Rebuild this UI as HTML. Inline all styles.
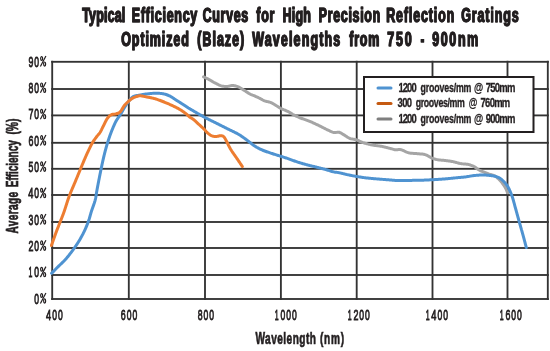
<!DOCTYPE html>
<html><head><meta charset="utf-8"><style>
html,body{margin:0;padding:0;background:#fff;width:550px;height:351px;overflow:hidden}
svg{display:block;will-change:transform}
text{font-family:"Liberation Sans",sans-serif;font-weight:bold;fill:#231f20;stroke:#231f20;stroke-width:0.5px}
</style></head><body>
<svg width="550" height="351" viewBox="0 0 550 351">
<rect width="550" height="351" fill="#fff"/>
<rect x="51.20" y="60.88" width="497.60" height="1.85" fill="#333"/><rect x="51.20" y="88.08" width="497.60" height="1.85" fill="#333"/><rect x="51.20" y="114.48" width="497.60" height="1.85" fill="#333"/><rect x="51.20" y="141.88" width="497.60" height="1.85" fill="#333"/><rect x="51.20" y="167.88" width="497.60" height="1.85" fill="#333"/><rect x="51.20" y="194.07" width="497.60" height="1.85" fill="#333"/><rect x="51.20" y="221.07" width="497.60" height="1.85" fill="#333"/><rect x="51.20" y="247.07" width="497.60" height="1.85" fill="#333"/><rect x="51.20" y="274.07" width="497.60" height="1.85" fill="#333"/><rect x="51.20" y="298.07" width="497.60" height="1.85" fill="#333"/><rect x="51.28" y="60.80" width="1.85" height="239.20" fill="#333"/><rect x="127.88" y="60.80" width="1.85" height="239.20" fill="#333"/><rect x="204.07" y="60.80" width="1.85" height="239.20" fill="#333"/><rect x="279.97" y="60.80" width="1.85" height="239.20" fill="#333"/><rect x="355.77" y="60.80" width="1.85" height="239.20" fill="#333"/><rect x="431.57" y="60.80" width="1.85" height="239.20" fill="#333"/><rect x="506.57" y="60.80" width="1.85" height="239.20" fill="#333"/><rect x="546.88" y="60.80" width="1.85" height="239.20" fill="#333"/>
<path d="M203.60,76.80 L204.21,77.11 L204.82,77.41 L205.42,77.72 L206.03,78.02 L206.63,78.32 L207.24,78.63 L207.85,78.95 L208.47,79.27 L209.10,79.60 L209.67,79.91 L210.24,80.23 L210.81,80.56 L211.39,80.90 L211.97,81.24 L212.56,81.58 L213.14,81.92 L213.73,82.26 L214.32,82.58 L214.91,82.90 L215.50,83.20 L216.13,83.52 L216.77,83.84 L217.42,84.17 L218.06,84.49 L218.70,84.80 L219.35,85.09 L219.99,85.37 L220.63,85.61 L221.27,85.82 L221.90,86.00 L222.60,86.15 L223.29,86.27 L223.98,86.35 L224.67,86.40 L225.35,86.43 L226.03,86.44 L226.72,86.43 L227.40,86.40 L228.08,86.33 L228.76,86.21 L229.43,86.06 L230.10,85.89 L230.78,85.73 L231.45,85.60 L232.13,85.51 L232.80,85.50 L233.49,85.55 L234.18,85.65 L234.88,85.78 L235.57,85.96 L236.26,86.16 L236.95,86.38 L237.63,86.63 L238.30,86.90 L238.92,87.18 L239.54,87.48 L240.15,87.82 L240.75,88.18 L241.36,88.55 L241.96,88.94 L242.57,89.33 L243.18,89.72 L243.80,90.10 L244.40,90.47 L245.01,90.86 L245.61,91.26 L246.22,91.67 L246.83,92.08 L247.45,92.48 L248.07,92.88 L248.70,93.27 L249.35,93.64 L250.00,94.00 L250.63,94.32 L251.28,94.62 L251.93,94.90 L252.60,95.18 L253.27,95.44 L253.94,95.71 L254.62,95.97 L255.29,96.24 L255.97,96.52 L256.64,96.80 L257.30,97.10 L257.91,97.39 L258.53,97.71 L259.14,98.03 L259.75,98.36 L260.36,98.69 L260.97,99.03 L261.58,99.36 L262.19,99.68 L262.79,99.99 L263.40,100.28 L264.00,100.55 L264.60,100.80 L265.32,101.06 L266.05,101.27 L266.78,101.45 L267.50,101.62 L268.22,101.78 L268.93,101.94 L269.63,102.13 L270.32,102.34 L271.00,102.60 L271.65,102.89 L272.28,103.22 L272.91,103.57 L273.53,103.94 L274.14,104.32 L274.74,104.70 L275.33,105.08 L275.92,105.45 L276.50,105.80 L277.16,106.20 L277.78,106.59 L278.39,106.98 L279.01,107.36 L279.64,107.74 L280.29,108.12 L281.00,108.50 L281.60,108.79 L282.23,109.08 L282.88,109.37 L283.56,109.66 L284.26,109.94 L284.95,110.23 L285.65,110.51 L286.34,110.80 L287.02,111.10 L287.67,111.39 L288.30,111.70 L288.95,112.04 L289.58,112.40 L290.19,112.76 L290.78,113.12 L291.38,113.49 L291.97,113.85 L292.56,114.21 L293.17,114.56 L293.80,114.90 L294.39,115.21 L294.99,115.51 L295.58,115.80 L296.18,116.10 L296.79,116.38 L297.40,116.67 L298.03,116.95 L298.67,117.23 L299.32,117.52 L300.00,117.80 L300.59,118.04 L301.20,118.27 L301.83,118.50 L302.47,118.73 L303.12,118.96 L303.78,119.19 L304.44,119.41 L305.11,119.64 L305.78,119.87 L306.46,120.11 L307.13,120.35 L307.79,120.59 L308.45,120.84 L309.10,121.10 L309.75,121.37 L310.41,121.64 L311.06,121.92 L311.71,122.20 L312.36,122.49 L313.01,122.78 L313.66,123.08 L314.31,123.37 L314.96,123.67 L315.61,123.98 L316.26,124.28 L316.90,124.59 L317.55,124.89 L318.20,125.20 L318.82,125.50 L319.44,125.80 L320.07,126.11 L320.70,126.43 L321.33,126.75 L321.96,127.08 L322.59,127.40 L323.21,127.72 L323.83,128.04 L324.45,128.36 L325.06,128.67 L325.66,128.97 L326.25,129.26 L326.83,129.53 L327.40,129.80 L328.08,130.12 L328.75,130.45 L329.41,130.78 L330.05,131.10 L330.68,131.41 L331.31,131.69 L331.93,131.95 L332.56,132.17 L333.18,132.36 L333.80,132.50 L334.49,132.57 L335.18,132.56 L335.87,132.48 L336.56,132.38 L337.24,132.28 L337.91,132.21 L338.56,132.21 L339.20,132.30 L339.89,132.51 L340.55,132.80 L341.19,133.15 L341.82,133.55 L342.46,133.96 L343.12,134.39 L343.80,134.80 L344.38,135.15 L344.98,135.53 L345.60,135.93 L346.22,136.35 L346.84,136.76 L347.48,137.17 L348.11,137.56 L348.74,137.91 L349.37,138.23 L350.00,138.50 L350.68,138.73 L351.35,138.89 L352.02,139.00 L352.69,139.10 L353.37,139.18 L354.06,139.28 L354.77,139.41 L355.50,139.60 L356.08,139.78 L356.68,139.99 L357.28,140.22 L357.90,140.47 L358.52,140.73 L359.15,141.00 L359.79,141.27 L360.44,141.55 L361.08,141.82 L361.74,142.09 L362.39,142.34 L363.05,142.58 L363.70,142.80 L364.33,143.00 L364.97,143.19 L365.61,143.38 L366.25,143.56 L366.90,143.74 L367.55,143.91 L368.20,144.08 L368.86,144.24 L369.52,144.39 L370.17,144.54 L370.83,144.69 L371.49,144.83 L372.15,144.97 L372.80,145.10 L373.50,145.23 L374.20,145.34 L374.89,145.45 L375.59,145.54 L376.30,145.63 L377.00,145.71 L377.70,145.79 L378.40,145.87 L379.10,145.96 L379.80,146.05 L380.50,146.16 L381.20,146.27 L381.90,146.40 L382.57,146.54 L383.24,146.68 L383.93,146.84 L384.63,147.01 L385.32,147.18 L386.02,147.36 L386.71,147.54 L387.39,147.72 L388.06,147.90 L388.71,148.08 L389.34,148.25 L389.96,148.41 L390.54,148.56 L391.10,148.70 L391.94,148.92 L392.71,149.14 L393.43,149.36 L394.14,149.54 L394.85,149.70 L395.60,149.80 L396.28,149.82 L396.95,149.78 L397.63,149.69 L398.31,149.60 L399.02,149.54 L399.74,149.52 L400.50,149.60 L401.07,149.72 L401.65,149.90 L402.25,150.11 L402.86,150.37 L403.48,150.65 L404.12,150.94 L404.76,151.25 L405.41,151.56 L406.06,151.85 L406.72,152.14 L407.38,152.39 L408.04,152.62 L408.70,152.80 L409.38,152.95 L410.07,153.07 L410.77,153.17 L411.48,153.25 L412.19,153.31 L412.91,153.37 L413.62,153.41 L414.34,153.45 L415.05,153.49 L415.75,153.53 L416.45,153.58 L417.13,153.63 L417.80,153.70 L418.50,153.77 L419.19,153.83 L419.87,153.88 L420.55,153.92 L421.22,153.97 L421.88,154.03 L422.54,154.10 L423.19,154.18 L423.83,154.29 L424.47,154.43 L425.10,154.60 L425.77,154.83 L426.44,155.11 L427.09,155.43 L427.73,155.78 L428.37,156.14 L429.00,156.50 L429.63,156.86 L430.25,157.20 L430.88,157.52 L431.50,157.80 L432.19,158.08 L432.86,158.34 L433.53,158.59 L434.19,158.82 L434.86,159.04 L435.55,159.24 L436.26,159.43 L437.00,159.60 L437.61,159.72 L438.25,159.83 L438.90,159.92 L439.57,159.99 L440.25,160.06 L440.94,160.13 L441.63,160.19 L442.33,160.24 L443.01,160.30 L443.69,160.36 L444.35,160.43 L445.00,160.50 L445.69,160.58 L446.36,160.66 L447.02,160.74 L447.68,160.81 L448.33,160.89 L448.98,160.97 L449.64,161.06 L450.31,161.16 L450.99,161.27 L451.70,161.40 L452.31,161.52 L452.93,161.66 L453.57,161.81 L454.22,161.97 L454.87,162.14 L455.53,162.32 L456.19,162.50 L456.86,162.67 L457.52,162.85 L458.19,163.02 L458.85,163.18 L459.51,163.34 L460.16,163.48 L460.80,163.60 L461.50,163.71 L462.21,163.81 L462.92,163.88 L463.63,163.95 L464.33,164.00 L465.04,164.06 L465.73,164.11 L466.42,164.18 L467.09,164.25 L467.74,164.35 L468.38,164.46 L469.00,164.60 L469.76,164.81 L470.49,165.04 L471.19,165.29 L471.88,165.55 L472.55,165.84 L473.21,166.14 L473.86,166.46 L474.50,166.80 L475.10,167.15 L475.66,167.53 L476.20,167.94 L476.73,168.36 L477.27,168.78 L477.83,169.20 L478.44,169.61 L479.10,170.00 L479.64,170.28 L480.21,170.57 L480.81,170.85 L481.43,171.13 L482.08,171.41 L482.73,171.68 L483.40,171.95 L484.08,172.22 L484.75,172.48 L485.43,172.74 L486.09,172.99 L486.75,173.23 L487.38,173.47 L488.00,173.70 L488.68,173.94 L489.36,174.15 L490.03,174.35 L490.71,174.53 L491.37,174.70 L492.03,174.89 L492.68,175.08 L493.31,175.29 L493.93,175.52 L494.52,175.79 L495.10,176.10 L495.69,176.47 L496.27,176.89 L496.83,177.33 L497.37,177.80 L497.89,178.29 L498.40,178.80 L498.90,179.30 L499.38,179.81 L499.85,180.31 L500.30,180.80 L500.78,181.33 L501.25,181.86 L501.69,182.39 L502.12,182.93 L502.53,183.47 L502.93,184.01 L503.32,184.55 L503.70,185.10 L504.10,185.71 L504.50,186.32 L504.88,186.95 L505.24,187.57 L505.58,188.19 L505.90,188.80 L506.20,189.40 L506.51,190.10 L506.78,190.78 L507.02,191.45 L507.25,192.12 L507.50,192.80" fill="none" stroke="#a5a5a5" stroke-width="3" stroke-linecap="round" stroke-linejoin="round"/>
<path d="M51.60,273.30 L52.07,272.82 L52.54,272.34 L53.01,271.87 L53.48,271.39 L53.94,270.91 L54.41,270.44 L54.88,269.96 L55.35,269.48 L55.82,269.00 L56.29,268.52 L56.76,268.05 L57.24,267.56 L57.72,267.08 L58.20,266.60 L58.67,266.13 L59.15,265.67 L59.63,265.20 L60.12,264.74 L60.61,264.27 L61.10,263.80 L61.59,263.34 L62.08,262.87 L62.57,262.40 L63.06,261.92 L63.54,261.45 L64.01,260.97 L64.48,260.48 L64.95,259.99 L65.40,259.50 L65.87,258.97 L66.35,258.43 L66.82,257.88 L67.28,257.32 L67.74,256.76 L68.20,256.19 L68.65,255.63 L69.09,255.06 L69.53,254.50 L69.96,253.95 L70.38,253.39 L70.80,252.85 L71.20,252.32 L71.60,251.80 L72.05,251.20 L72.49,250.62 L72.91,250.05 L73.33,249.48 L73.73,248.92 L74.13,248.37 L74.52,247.81 L74.91,247.25 L75.31,246.68 L75.70,246.10 L76.10,245.51 L76.49,244.92 L76.88,244.34 L77.27,243.75 L77.66,243.16 L78.04,242.56 L78.43,241.94 L78.81,241.32 L79.20,240.67 L79.60,240.00 L79.92,239.45 L80.25,238.88 L80.58,238.30 L80.91,237.71 L81.25,237.10 L81.59,236.49 L81.92,235.87 L82.26,235.24 L82.59,234.61 L82.93,233.98 L83.25,233.34 L83.57,232.70 L83.89,232.07 L84.20,231.43 L84.50,230.80 L84.80,230.17 L85.09,229.53 L85.38,228.89 L85.66,228.25 L85.94,227.61 L86.22,226.96 L86.49,226.31 L86.76,225.67 L87.02,225.02 L87.28,224.36 L87.53,223.71 L87.78,223.06 L88.03,222.41 L88.27,221.75 L88.50,221.10 L88.72,220.46 L88.93,219.82 L89.14,219.18 L89.33,218.54 L89.52,217.91 L89.71,217.27 L89.89,216.63 L90.07,215.99 L90.25,215.34 L90.43,214.69 L90.61,214.04 L90.80,213.39 L90.99,212.73 L91.19,212.07 L91.40,211.40 L91.60,210.79 L91.80,210.17 L92.02,209.54 L92.24,208.92 L92.46,208.28 L92.69,207.65 L92.92,207.01 L93.15,206.37 L93.38,205.72 L93.61,205.08 L93.83,204.44 L94.05,203.80 L94.27,203.16 L94.47,202.52 L94.67,201.88 L94.86,201.25 L95.04,200.62 L95.20,200.00 L95.37,199.32 L95.52,198.66 L95.65,198.01 L95.78,197.36 L95.89,196.72 L96.00,196.09 L96.10,195.45 L96.20,194.80 L96.30,194.15 L96.40,193.49 L96.51,192.82 L96.62,192.12 L96.73,191.41 L96.86,190.67 L97.00,189.90 L97.11,189.33 L97.22,188.74 L97.33,188.14 L97.45,187.53 L97.57,186.90 L97.69,186.26 L97.81,185.60 L97.94,184.94 L98.07,184.27 L98.20,183.59 L98.33,182.90 L98.47,182.21 L98.60,181.51 L98.74,180.80 L98.87,180.10 L99.01,179.39 L99.15,178.68 L99.29,177.98 L99.43,177.27 L99.57,176.56 L99.71,175.86 L99.85,175.17 L99.99,174.48 L100.13,173.79 L100.26,173.11 L100.40,172.44 L100.53,171.79 L100.67,171.14 L100.80,170.50 L100.95,169.79 L101.09,169.08 L101.24,168.38 L101.39,167.68 L101.53,166.99 L101.67,166.29 L101.82,165.60 L101.96,164.92 L102.11,164.24 L102.25,163.56 L102.40,162.88 L102.54,162.21 L102.69,161.54 L102.83,160.88 L102.98,160.21 L103.13,159.55 L103.28,158.89 L103.43,158.24 L103.58,157.59 L103.73,156.94 L103.89,156.29 L104.04,155.64 L104.20,155.00 L104.37,154.32 L104.54,153.65 L104.71,152.98 L104.88,152.31 L105.05,151.65 L105.22,150.99 L105.39,150.33 L105.57,149.68 L105.74,149.03 L105.92,148.38 L106.10,147.74 L106.28,147.10 L106.46,146.46 L106.65,145.82 L106.83,145.18 L107.02,144.54 L107.21,143.91 L107.40,143.27 L107.60,142.63 L107.80,142.00 L108.01,141.35 L108.22,140.69 L108.43,140.04 L108.65,139.38 L108.86,138.73 L109.08,138.07 L109.31,137.42 L109.53,136.77 L109.76,136.12 L109.99,135.48 L110.22,134.84 L110.45,134.20 L110.68,133.57 L110.92,132.94 L111.15,132.32 L111.39,131.70 L111.62,131.09 L111.86,130.49 L112.10,129.90 L112.37,129.24 L112.64,128.59 L112.90,127.94 L113.17,127.29 L113.44,126.65 L113.72,126.02 L113.99,125.39 L114.27,124.78 L114.55,124.17 L114.83,123.57 L115.12,122.97 L115.40,122.39 L115.70,121.82 L116.00,121.25 L116.30,120.70 L116.67,120.06 L117.05,119.45 L117.44,118.85 L117.84,118.28 L118.24,117.71 L118.64,117.15 L119.04,116.59 L119.44,116.03 L119.84,115.46 L120.22,114.89 L120.60,114.30 L120.97,113.69 L121.33,113.08 L121.68,112.46 L122.03,111.84 L122.38,111.21 L122.72,110.58 L123.07,109.96 L123.41,109.33 L123.77,108.72 L124.13,108.10 L124.50,107.50 L124.87,106.91 L125.25,106.31 L125.63,105.72 L126.01,105.12 L126.40,104.53 L126.79,103.95 L127.18,103.37 L127.58,102.81 L127.98,102.26 L128.39,101.72 L128.80,101.20 L129.25,100.63 L129.69,100.07 L130.13,99.51 L130.57,98.97 L131.02,98.45 L131.50,97.95 L132.00,97.49 L132.53,97.07 L133.10,96.70 L133.70,96.40 L134.34,96.14 L135.02,95.93 L135.72,95.75 L136.45,95.60 L137.18,95.47 L137.91,95.36 L138.63,95.24 L139.33,95.13 L140.00,95.00 L140.70,94.86 L141.37,94.73 L142.02,94.61 L142.67,94.50 L143.32,94.40 L144.00,94.30 L144.73,94.20 L145.50,94.10 L146.08,94.03 L146.69,93.95 L147.34,93.88 L148.00,93.80 L148.68,93.72 L149.38,93.64 L150.09,93.57 L150.81,93.49 L151.54,93.43 L152.26,93.37 L152.98,93.31 L153.70,93.27 L154.40,93.23 L155.09,93.21 L155.75,93.20 L156.40,93.20 L157.13,93.21 L157.86,93.24 L158.58,93.27 L159.29,93.32 L159.99,93.38 L160.69,93.44 L161.37,93.52 L162.05,93.61 L162.71,93.72 L163.35,93.83 L163.98,93.96 L164.60,94.10 L165.35,94.29 L166.06,94.51 L166.75,94.74 L167.42,94.99 L168.09,95.26 L168.75,95.55 L169.42,95.86 L170.10,96.20 L170.67,96.50 L171.25,96.83 L171.82,97.18 L172.40,97.55 L172.97,97.93 L173.55,98.32 L174.13,98.72 L174.72,99.12 L175.31,99.52 L175.90,99.91 L176.50,100.30 L177.09,100.68 L177.70,101.06 L178.32,101.45 L178.94,101.84 L179.57,102.23 L180.20,102.63 L180.82,103.02 L181.44,103.41 L182.05,103.79 L182.65,104.17 L183.23,104.54 L183.80,104.90 L184.41,105.30 L184.99,105.68 L185.56,106.05 L186.11,106.42 L186.65,106.78 L187.21,107.15 L187.78,107.52 L188.37,107.91 L189.00,108.30 L189.52,108.62 L190.06,108.95 L190.61,109.29 L191.17,109.63 L191.75,109.97 L192.33,110.32 L192.93,110.67 L193.52,111.02 L194.12,111.37 L194.72,111.72 L195.32,112.07 L195.92,112.42 L196.51,112.76 L197.10,113.10 L197.68,113.43 L198.26,113.77 L198.83,114.10 L199.41,114.43 L199.98,114.76 L200.56,115.09 L201.13,115.41 L201.71,115.74 L202.29,116.07 L202.88,116.39 L203.48,116.72 L204.08,117.05 L204.68,117.37 L205.30,117.70 L205.90,118.01 L206.50,118.32 L207.12,118.64 L207.73,118.95 L208.36,119.26 L208.99,119.57 L209.62,119.88 L210.25,120.18 L210.89,120.50 L211.53,120.81 L212.18,121.12 L212.82,121.43 L213.47,121.75 L214.11,122.06 L214.76,122.38 L215.40,122.70 L216.00,123.00 L216.59,123.30 L217.19,123.60 L217.79,123.90 L218.39,124.20 L218.99,124.51 L219.59,124.81 L220.20,125.12 L220.80,125.42 L221.41,125.73 L222.01,126.04 L222.62,126.35 L223.23,126.66 L223.84,126.96 L224.46,127.27 L225.07,127.58 L225.68,127.89 L226.30,128.20 L226.91,128.50 L227.54,128.81 L228.17,129.12 L228.82,129.43 L229.47,129.74 L230.12,130.05 L230.78,130.36 L231.43,130.68 L232.09,130.99 L232.74,131.30 L233.38,131.61 L234.01,131.92 L234.63,132.23 L235.24,132.53 L235.83,132.83 L236.41,133.13 L236.96,133.42 L237.49,133.71 L238.00,134.00 L238.71,134.42 L239.38,134.82 L240.01,135.22 L240.61,135.61 L241.19,136.00 L241.76,136.39 L242.33,136.78 L242.91,137.18 L243.50,137.60 L244.06,137.99 L244.61,138.39 L245.16,138.80 L245.71,139.21 L246.26,139.62 L246.81,140.04 L247.36,140.45 L247.91,140.87 L248.45,141.29 L249.00,141.70 L249.54,142.11 L250.07,142.53 L250.60,142.95 L251.13,143.37 L251.66,143.79 L252.19,144.20 L252.73,144.62 L253.27,145.02 L253.83,145.42 L254.40,145.80 L254.95,146.16 L255.51,146.51 L256.07,146.85 L256.64,147.20 L257.22,147.53 L257.80,147.86 L258.39,148.18 L258.99,148.50 L259.59,148.81 L260.19,149.11 L260.80,149.40 L261.44,149.69 L262.08,149.97 L262.73,150.24 L263.38,150.50 L264.04,150.75 L264.71,150.99 L265.38,151.24 L266.05,151.48 L266.73,151.72 L267.42,151.96 L268.10,152.20 L268.76,152.43 L269.42,152.66 L270.08,152.88 L270.74,153.10 L271.40,153.32 L272.07,153.54 L272.75,153.76 L273.44,153.98 L274.13,154.20 L274.84,154.43 L275.56,154.66 L276.30,154.90 L276.90,155.09 L277.52,155.29 L278.15,155.49 L278.79,155.69 L279.44,155.89 L280.10,156.09 L280.77,156.30 L281.44,156.51 L282.12,156.72 L282.79,156.93 L283.47,157.14 L284.14,157.35 L284.80,157.56 L285.46,157.77 L286.11,157.98 L286.76,158.19 L287.39,158.39 L288.00,158.60 L288.69,158.84 L289.36,159.08 L290.03,159.32 L290.69,159.56 L291.34,159.80 L291.98,160.04 L292.62,160.29 L293.26,160.53 L293.89,160.76 L294.53,161.00 L295.17,161.23 L295.81,161.46 L296.45,161.68 L297.10,161.90 L297.75,162.11 L298.39,162.32 L299.04,162.52 L299.69,162.72 L300.34,162.92 L300.99,163.12 L301.64,163.31 L302.29,163.50 L302.94,163.69 L303.59,163.87 L304.24,164.06 L304.89,164.24 L305.55,164.42 L306.20,164.60 L306.85,164.78 L307.51,164.95 L308.17,165.12 L308.82,165.29 L309.48,165.45 L310.14,165.61 L310.80,165.77 L311.46,165.93 L312.11,166.09 L312.77,166.25 L313.43,166.41 L314.09,166.57 L314.74,166.74 L315.40,166.90 L316.05,167.06 L316.70,167.22 L317.35,167.39 L318.01,167.55 L318.66,167.70 L319.31,167.86 L319.96,168.03 L320.61,168.19 L321.26,168.35 L321.91,168.51 L322.55,168.68 L323.20,168.85 L323.85,169.02 L324.50,169.20 L325.16,169.39 L325.83,169.58 L326.51,169.79 L327.20,170.01 L327.88,170.22 L328.57,170.44 L329.25,170.66 L329.92,170.87 L330.59,171.08 L331.23,171.28 L331.86,171.46 L332.47,171.62 L333.05,171.77 L333.60,171.90 L334.40,172.05 L335.12,172.15 L335.80,172.22 L336.47,172.29 L337.20,172.37 L338.00,172.50 L338.55,172.61 L339.13,172.73 L339.74,172.86 L340.36,173.00 L341.01,173.15 L341.67,173.31 L342.35,173.48 L343.03,173.64 L343.72,173.81 L344.40,173.98 L345.09,174.14 L345.77,174.30 L346.44,174.46 L347.10,174.60 L347.80,174.75 L348.50,174.90 L349.20,175.04 L349.89,175.19 L350.59,175.33 L351.29,175.47 L351.99,175.61 L352.69,175.75 L353.39,175.89 L354.09,176.02 L354.79,176.15 L355.50,176.28 L356.20,176.40 L356.90,176.52 L357.61,176.64 L358.32,176.76 L359.03,176.88 L359.73,176.99 L360.44,177.10 L361.15,177.21 L361.86,177.32 L362.57,177.42 L363.28,177.52 L363.98,177.62 L364.69,177.71 L365.40,177.80 L366.10,177.89 L366.78,177.97 L367.46,178.04 L368.14,178.11 L368.82,178.18 L369.50,178.25 L370.18,178.31 L370.87,178.38 L371.57,178.44 L372.28,178.50 L373.00,178.57 L373.74,178.63 L374.50,178.70 L375.12,178.76 L375.75,178.81 L376.41,178.87 L377.07,178.92 L377.75,178.98 L378.44,179.04 L379.13,179.10 L379.84,179.15 L380.54,179.21 L381.25,179.27 L381.96,179.32 L382.66,179.38 L383.37,179.43 L384.06,179.49 L384.75,179.54 L385.43,179.60 L386.09,179.65 L386.75,179.70 L387.38,179.75 L388.00,179.80 L388.76,179.86 L389.50,179.92 L390.22,179.99 L390.93,180.05 L391.63,180.11 L392.32,180.18 L393.00,180.23 L393.68,180.29 L394.36,180.34 L395.04,180.39 L395.72,180.43 L396.40,180.47 L397.10,180.50 L397.80,180.52 L398.50,180.54 L399.20,180.55 L399.90,180.56 L400.60,180.56 L401.30,180.56 L402.00,180.55 L402.70,180.55 L403.40,180.54 L404.10,180.53 L404.80,180.52 L405.50,180.51 L406.20,180.50 L406.91,180.49 L407.61,180.48 L408.32,180.47 L409.03,180.45 L409.74,180.44 L410.45,180.42 L411.15,180.40 L411.86,180.39 L412.57,180.37 L413.28,180.35 L413.99,180.33 L414.69,180.32 L415.40,180.30 L416.10,180.29 L416.78,180.27 L417.47,180.26 L418.15,180.25 L418.82,180.24 L419.50,180.23 L420.18,180.21 L420.87,180.20 L421.57,180.19 L422.28,180.17 L423.00,180.15 L423.74,180.13 L424.50,180.10 L425.12,180.08 L425.75,180.05 L426.41,180.02 L427.07,179.99 L427.75,179.96 L428.44,179.93 L429.14,179.90 L429.84,179.86 L430.54,179.83 L431.25,179.79 L431.96,179.75 L432.66,179.72 L433.37,179.68 L434.06,179.64 L434.75,179.60 L435.43,179.56 L436.09,179.52 L436.75,179.48 L437.38,179.44 L438.00,179.40 L438.76,179.35 L439.50,179.30 L440.22,179.25 L440.93,179.20 L441.63,179.15 L442.32,179.10 L443.00,179.04 L443.68,178.99 L444.36,178.93 L445.04,178.88 L445.72,178.82 L446.41,178.76 L447.10,178.70 L447.80,178.64 L448.50,178.57 L449.20,178.51 L449.90,178.44 L450.60,178.37 L451.30,178.30 L452.00,178.23 L452.70,178.15 L453.40,178.08 L454.10,178.01 L454.80,177.94 L455.50,177.87 L456.20,177.80 L456.91,177.73 L457.61,177.67 L458.32,177.60 L459.03,177.54 L459.74,177.48 L460.45,177.41 L461.16,177.35 L461.87,177.28 L462.57,177.21 L463.28,177.14 L463.99,177.07 L464.69,176.99 L465.40,176.90 L466.10,176.81 L466.80,176.70 L467.50,176.59 L468.20,176.48 L468.89,176.36 L469.59,176.24 L470.29,176.11 L470.99,176.00 L471.68,175.88 L472.39,175.77 L473.09,175.67 L473.79,175.58 L474.50,175.50 L475.18,175.43 L475.86,175.37 L476.56,175.31 L477.26,175.25 L477.96,175.20 L478.67,175.15 L479.37,175.11 L480.07,175.08 L480.76,175.05 L481.44,175.02 L482.10,175.01 L482.76,175.00 L483.39,174.99 L484.00,175.00 L484.73,175.02 L485.44,175.05 L486.12,175.09 L486.79,175.15 L487.45,175.21 L488.09,175.28 L488.73,175.35 L489.37,175.42 L490.00,175.50 L490.74,175.59 L491.47,175.67 L492.18,175.76 L492.89,175.86 L493.60,175.98 L494.30,176.12 L495.00,176.30 L495.64,176.48 L496.28,176.68 L496.92,176.89 L497.56,177.12 L498.20,177.38 L498.82,177.66 L499.42,177.96 L500.00,178.30 L500.57,178.68 L501.13,179.09 L501.67,179.53 L502.20,180.00 L502.71,180.48 L503.22,180.98 L503.71,181.49 L504.20,182.00 L504.69,182.53 L505.17,183.07 L505.64,183.62 L506.10,184.19 L506.55,184.77 L506.98,185.36 L507.40,185.97 L507.80,186.60 L508.16,187.21 L508.51,187.85 L508.84,188.50 L509.16,189.17 L509.46,189.85 L509.76,190.52 L510.05,191.19 L510.33,191.86 L510.60,192.50 L510.87,193.13 L511.12,193.73 L511.35,194.32 L511.58,194.91 L511.81,195.51 L512.03,196.13 L512.26,196.79 L512.50,197.50 L512.68,198.06 L512.86,198.64 L513.04,199.25 L513.22,199.87 L513.40,200.51 L513.59,201.16 L513.77,201.83 L513.95,202.51 L514.14,203.21 L514.33,203.91 L514.52,204.62 L514.71,205.33 L514.90,206.05 L515.10,206.78 L515.30,207.50 L515.47,208.12 L515.65,208.75 L515.82,209.39 L516.00,210.03 L516.18,210.69 L516.37,211.35 L516.55,212.02 L516.74,212.69 L516.92,213.37 L517.11,214.05 L517.30,214.74 L517.49,215.43 L517.68,216.12 L517.87,216.81 L518.06,217.50 L518.25,218.19 L518.44,218.88 L518.63,219.56 L518.82,220.25 L519.01,220.93 L519.20,221.60 L519.38,222.25 L519.56,222.89 L519.75,223.55 L519.93,224.20 L520.12,224.85 L520.30,225.51 L520.49,226.16 L520.67,226.82 L520.86,227.47 L521.05,228.13 L521.23,228.78 L521.42,229.43 L521.60,230.09 L521.79,230.73 L521.97,231.38 L522.15,232.02 L522.33,232.66 L522.51,233.30 L522.68,233.93 L522.86,234.56 L523.03,235.18 L523.20,235.80 L523.38,236.48 L523.57,237.15 L523.75,237.81 L523.92,238.47 L524.10,239.13 L524.27,239.78 L524.44,240.43 L524.61,241.08 L524.78,241.72 L524.95,242.36 L525.12,243.00 L525.29,243.64 L525.45,244.28 L525.62,244.92 L525.79,245.56 L525.96,246.21 L526.13,246.85 L526.30,247.50" fill="none" stroke="#4f93d1" stroke-width="3" stroke-linecap="round" stroke-linejoin="round"/>
<path d="M51.40,245.50 L51.63,244.85 L51.87,244.20 L52.10,243.54 L52.34,242.88 L52.57,242.21 L52.81,241.54 L53.05,240.87 L53.28,240.20 L53.52,239.54 L53.76,238.87 L53.99,238.20 L54.23,237.54 L54.47,236.89 L54.70,236.23 L54.93,235.59 L55.16,234.95 L55.39,234.31 L55.62,233.69 L55.84,233.08 L56.06,232.47 L56.28,231.88 L56.50,231.30 L56.77,230.58 L57.04,229.88 L57.30,229.19 L57.56,228.52 L57.82,227.87 L58.08,227.22 L58.33,226.58 L58.58,225.94 L58.83,225.31 L59.09,224.67 L59.34,224.04 L59.59,223.40 L59.84,222.75 L60.10,222.10 L60.36,221.44 L60.62,220.79 L60.87,220.14 L61.13,219.49 L61.39,218.85 L61.64,218.20 L61.90,217.55 L62.16,216.90 L62.41,216.24 L62.67,215.57 L62.93,214.90 L63.19,214.21 L63.44,213.51 L63.70,212.80 L63.91,212.20 L64.13,211.58 L64.34,210.95 L64.56,210.30 L64.78,209.63 L65.00,208.96 L65.22,208.28 L65.44,207.59 L65.66,206.90 L65.88,206.22 L66.10,205.54 L66.31,204.86 L66.53,204.19 L66.74,203.54 L66.94,202.90 L67.14,202.27 L67.34,201.67 L67.53,201.09 L67.72,200.53 L67.90,200.00 L68.15,199.27 L68.38,198.60 L68.60,197.98 L68.81,197.39 L69.01,196.81 L69.23,196.22 L69.46,195.60 L69.72,194.94 L70.00,194.20 L70.20,193.70 L70.41,193.17 L70.63,192.63 L70.86,192.06 L71.10,191.48 L71.35,190.88 L71.61,190.26 L71.87,189.64 L72.14,189.00 L72.41,188.35 L72.69,187.70 L72.97,187.05 L73.25,186.39 L73.53,185.72 L73.81,185.06 L74.09,184.40 L74.37,183.75 L74.65,183.10 L74.92,182.46 L75.19,181.83 L75.45,181.21 L75.70,180.60 L75.97,179.95 L76.24,179.29 L76.51,178.64 L76.78,177.99 L77.05,177.35 L77.31,176.70 L77.58,176.06 L77.84,175.42 L78.11,174.78 L78.37,174.14 L78.63,173.51 L78.89,172.87 L79.15,172.24 L79.41,171.61 L79.67,170.99 L79.93,170.36 L80.19,169.74 L80.44,169.12 L80.70,168.50 L80.97,167.85 L81.24,167.20 L81.51,166.55 L81.78,165.90 L82.05,165.26 L82.31,164.61 L82.58,163.97 L82.85,163.33 L83.11,162.69 L83.38,162.06 L83.64,161.43 L83.90,160.81 L84.17,160.20 L84.43,159.59 L84.69,158.98 L84.94,158.39 L85.20,157.80 L85.49,157.14 L85.78,156.48 L86.06,155.84 L86.35,155.21 L86.63,154.58 L86.91,153.96 L87.19,153.34 L87.47,152.73 L87.75,152.12 L88.03,151.51 L88.32,150.91 L88.61,150.31 L88.90,149.70 L89.21,149.06 L89.51,148.43 L89.82,147.79 L90.13,147.16 L90.43,146.53 L90.74,145.90 L91.06,145.28 L91.38,144.66 L91.70,144.06 L92.03,143.46 L92.36,142.87 L92.70,142.30 L93.09,141.67 L93.49,141.06 L93.90,140.45 L94.32,139.85 L94.74,139.26 L95.16,138.69 L95.58,138.12 L95.99,137.57 L96.40,137.03 L96.80,136.50 L97.27,135.90 L97.74,135.34 L98.21,134.80 L98.66,134.27 L99.12,133.72 L99.56,133.14 L100.00,132.50 L100.33,131.96 L100.66,131.40 L100.98,130.81 L101.29,130.20 L101.60,129.58 L101.90,128.94 L102.21,128.30 L102.53,127.64 L102.84,126.99 L103.17,126.34 L103.50,125.70 L103.81,125.10 L104.13,124.47 L104.44,123.83 L104.76,123.17 L105.08,122.51 L105.41,121.85 L105.73,121.20 L106.07,120.56 L106.40,119.94 L106.75,119.35 L107.09,118.79 L107.44,118.27 L107.80,117.80 L108.28,117.22 L108.77,116.69 L109.25,116.20 L109.75,115.76 L110.27,115.36 L110.82,115.01 L111.40,114.70 L112.04,114.46 L112.74,114.31 L113.46,114.21 L114.20,114.14 L114.93,114.07 L115.64,113.96 L116.30,113.80 L117.07,113.55 L117.81,113.30 L118.52,113.00 L119.21,112.61 L119.90,112.10 L120.31,111.71 L120.71,111.23 L121.10,110.70 L121.49,110.12 L121.87,109.50 L122.25,108.86 L122.62,108.21 L123.00,107.57 L123.37,106.94 L123.75,106.34 L124.12,105.79 L124.50,105.30 L125.00,104.72 L125.49,104.18 L125.98,103.68 L126.47,103.20 L126.96,102.74 L127.47,102.27 L128.00,101.80 L128.49,101.35 L128.99,100.90 L129.49,100.45 L130.01,100.00 L130.53,99.57 L131.07,99.15 L131.63,98.76 L132.20,98.40 L132.82,98.06 L133.47,97.74 L134.16,97.44 L134.85,97.16 L135.53,96.91 L136.20,96.68 L136.82,96.48 L137.40,96.30 L138.28,96.04 L139.07,95.87 L140.00,95.80 L140.53,95.82 L141.10,95.87 L141.73,95.96 L142.38,96.07 L143.07,96.20 L143.78,96.35 L144.49,96.50 L145.21,96.66 L145.92,96.82 L146.62,96.96 L147.30,97.10 L147.96,97.22 L148.62,97.35 L149.28,97.46 L149.94,97.58 L150.60,97.70 L151.26,97.83 L151.93,97.96 L152.59,98.10 L153.26,98.26 L153.93,98.42 L154.60,98.60 L155.22,98.78 L155.84,98.97 L156.46,99.16 L157.09,99.37 L157.72,99.59 L158.34,99.81 L158.98,100.04 L159.61,100.27 L160.24,100.51 L160.88,100.75 L161.52,101.00 L162.16,101.25 L162.80,101.50 L163.44,101.75 L164.09,102.01 L164.75,102.28 L165.41,102.55 L166.07,102.82 L166.73,103.10 L167.40,103.39 L168.06,103.67 L168.72,103.96 L169.37,104.25 L170.02,104.54 L170.66,104.83 L171.28,105.11 L171.90,105.40 L172.54,105.70 L173.18,106.00 L173.81,106.30 L174.43,106.60 L175.04,106.89 L175.65,107.19 L176.26,107.50 L176.85,107.81 L177.45,108.12 L178.04,108.44 L178.62,108.77 L179.20,109.10 L179.81,109.46 L180.42,109.84 L181.03,110.22 L181.64,110.61 L182.24,111.00 L182.83,111.40 L183.41,111.80 L183.98,112.20 L184.53,112.60 L185.07,113.00 L185.60,113.40 L186.20,113.88 L186.78,114.37 L187.34,114.87 L187.89,115.37 L188.42,115.86 L188.95,116.33 L189.47,116.78 L190.00,117.20 L190.59,117.62 L191.16,117.98 L191.73,118.33 L192.30,118.67 L192.89,119.05 L193.50,119.50 L193.96,119.87 L194.44,120.27 L194.93,120.70 L195.43,121.15 L195.94,121.62 L196.45,122.10 L196.97,122.59 L197.48,123.07 L197.99,123.56 L198.50,124.04 L199.00,124.50 L199.50,124.96 L200.01,125.42 L200.53,125.89 L201.05,126.36 L201.56,126.82 L202.07,127.29 L202.57,127.75 L203.06,128.20 L203.53,128.65 L203.98,129.08 L204.40,129.50 L204.94,130.07 L205.41,130.62 L205.86,131.16 L206.31,131.69 L206.78,132.20 L207.30,132.70 L207.84,133.18 L208.41,133.66 L209.00,134.14 L209.61,134.60 L210.23,135.02 L210.86,135.39 L211.50,135.70 L212.19,135.96 L212.89,136.16 L213.60,136.31 L214.32,136.41 L215.05,136.47 L215.80,136.50 L216.53,136.46 L217.31,136.33 L218.10,136.16 L218.88,135.98 L219.64,135.81 L220.35,135.71 L221.00,135.70 L221.92,135.82 L222.74,136.06 L223.50,136.50 L223.92,136.88 L224.31,137.36 L224.69,137.91 L225.05,138.51 L225.40,139.14 L225.75,139.78 L226.10,140.40 L226.43,141.00 L226.75,141.62 L227.06,142.27 L227.37,142.92 L227.67,143.58 L227.97,144.23 L228.28,144.88 L228.60,145.50 L228.94,146.15 L229.27,146.78 L229.59,147.39 L229.93,148.01 L230.29,148.64 L230.67,149.30 L231.10,150.00 L231.41,150.49 L231.73,150.99 L232.08,151.51 L232.44,152.04 L232.81,152.59 L233.20,153.15 L233.59,153.72 L234.00,154.29 L234.40,154.87 L234.81,155.44 L235.22,156.02 L235.62,156.60 L236.02,157.17 L236.42,157.74 L236.80,158.30 L237.18,158.85 L237.55,159.41 L237.93,159.96 L238.30,160.51 L238.67,161.06 L239.05,161.62 L239.42,162.17 L239.79,162.73 L240.16,163.28 L240.54,163.83 L240.91,164.39 L241.28,164.94 L241.65,165.49 L242.03,166.05 L242.40,166.60" fill="none" stroke="#ed7d31" stroke-width="3" stroke-linecap="round" stroke-linejoin="round"/>
<rect x="364.00" y="77.00" width="169.50" height="55.00" fill="#fff" stroke="#231f20" stroke-width="2.00"/>

<line x1="378.0" y1="87.9" x2="391.0" y2="87.9" stroke="#4f93d1" stroke-width="3" stroke-linecap="round"/>
<line x1="378.0" y1="103.5" x2="391.0" y2="103.5" stroke="#c55a11" stroke-width="3" stroke-linecap="round"/>
<line x1="378.0" y1="119.1" x2="391.0" y2="119.1" stroke="#7f7f7f" stroke-width="3" stroke-linecap="round"/>
<text transform="translate(28.45 66.60) scale(0.581 1)" font-size="15.18" style="stroke-width:0.90px;font-weight:normal">9</text><text transform="translate(34.27 66.60) scale(0.564 1)" font-size="15.18" style="stroke-width:0.90px;font-weight:normal">0</text><g transform="translate(40.10 55.80)" fill="none" stroke="#231f20" stroke-width="1.2"><path d="M5.8,0.2 L0.3,10.7"/><ellipse cx="1.55" cy="2.75" rx="1.0" ry="1.9"/><ellipse cx="4.55" cy="8.25" rx="1.0" ry="2.05"/></g><text transform="translate(28.48 92.93) scale(0.573 1)" font-size="15.18" style="stroke-width:0.90px;font-weight:normal">8</text><text transform="translate(34.27 92.93) scale(0.564 1)" font-size="15.18" style="stroke-width:0.90px;font-weight:normal">0</text><g transform="translate(40.10 82.13)" fill="none" stroke="#231f20" stroke-width="1.2"><path d="M5.8,0.2 L0.3,10.7"/><ellipse cx="1.55" cy="2.75" rx="1.0" ry="1.9"/><ellipse cx="4.55" cy="8.25" rx="1.0" ry="2.05"/></g><text transform="translate(28.41 119.26) scale(0.590 1)" font-size="15.18" style="stroke-width:0.90px;font-weight:normal">7</text><text transform="translate(34.27 119.26) scale(0.564 1)" font-size="15.18" style="stroke-width:0.90px;font-weight:normal">0</text><g transform="translate(40.10 108.46)" fill="none" stroke="#231f20" stroke-width="1.2"><path d="M5.8,0.2 L0.3,10.7"/><ellipse cx="1.55" cy="2.75" rx="1.0" ry="1.9"/><ellipse cx="4.55" cy="8.25" rx="1.0" ry="2.05"/></g><text transform="translate(28.41 145.59) scale(0.582 1)" font-size="15.18" style="stroke-width:0.90px;font-weight:normal">6</text><text transform="translate(34.27 145.59) scale(0.564 1)" font-size="15.18" style="stroke-width:0.90px;font-weight:normal">0</text><g transform="translate(40.10 134.79)" fill="none" stroke="#231f20" stroke-width="1.2"><path d="M5.8,0.2 L0.3,10.7"/><ellipse cx="1.55" cy="2.75" rx="1.0" ry="1.9"/><ellipse cx="4.55" cy="8.25" rx="1.0" ry="2.05"/></g><text transform="translate(28.51 171.92) scale(0.568 1)" font-size="15.18" style="stroke-width:0.90px;font-weight:normal">5</text><text transform="translate(34.27 171.92) scale(0.564 1)" font-size="15.18" style="stroke-width:0.90px;font-weight:normal">0</text><g transform="translate(40.10 161.12)" fill="none" stroke="#231f20" stroke-width="1.2"><path d="M5.8,0.2 L0.3,10.7"/><ellipse cx="1.55" cy="2.75" rx="1.0" ry="1.9"/><ellipse cx="4.55" cy="8.25" rx="1.0" ry="2.05"/></g><text transform="translate(28.26 198.25) scale(0.608 1)" font-size="15.18" style="stroke-width:0.90px;font-weight:normal">4</text><text transform="translate(34.27 198.25) scale(0.564 1)" font-size="15.18" style="stroke-width:0.90px;font-weight:normal">0</text><g transform="translate(40.10 187.45)" fill="none" stroke="#231f20" stroke-width="1.2"><path d="M5.8,0.2 L0.3,10.7"/><ellipse cx="1.55" cy="2.75" rx="1.0" ry="1.9"/><ellipse cx="4.55" cy="8.25" rx="1.0" ry="2.05"/></g><text transform="translate(28.53 224.58) scale(0.568 1)" font-size="15.18" style="stroke-width:0.90px;font-weight:normal">3</text><text transform="translate(34.27 224.58) scale(0.564 1)" font-size="15.18" style="stroke-width:0.90px;font-weight:normal">0</text><g transform="translate(40.10 213.78)" fill="none" stroke="#231f20" stroke-width="1.2"><path d="M5.8,0.2 L0.3,10.7"/><ellipse cx="1.55" cy="2.75" rx="1.0" ry="1.9"/><ellipse cx="4.55" cy="8.25" rx="1.0" ry="2.05"/></g><text transform="translate(28.42 250.91) scale(0.589 1)" font-size="15.18" style="stroke-width:0.90px;font-weight:normal">2</text><text transform="translate(34.27 250.91) scale(0.564 1)" font-size="15.18" style="stroke-width:0.90px;font-weight:normal">0</text><g transform="translate(40.10 240.11)" fill="none" stroke="#231f20" stroke-width="1.2"><path d="M5.8,0.2 L0.3,10.7"/><ellipse cx="1.55" cy="2.75" rx="1.0" ry="1.9"/><ellipse cx="4.55" cy="8.25" rx="1.0" ry="2.05"/></g><text transform="translate(28.48 277.24) scale(0.457 1)" font-size="15.18" style="stroke-width:0.90px;font-weight:normal">1</text><text transform="translate(34.27 277.24) scale(0.564 1)" font-size="15.18" style="stroke-width:0.90px;font-weight:normal">0</text><g transform="translate(40.10 266.44)" fill="none" stroke="#231f20" stroke-width="1.2"><path d="M5.8,0.2 L0.3,10.7"/><ellipse cx="1.55" cy="2.75" rx="1.0" ry="1.9"/><ellipse cx="4.55" cy="8.25" rx="1.0" ry="2.05"/></g><text transform="translate(34.27 303.57) scale(0.564 1)" font-size="15.18" style="stroke-width:0.90px;font-weight:normal">0</text><g transform="translate(40.10 292.77)" fill="none" stroke="#231f20" stroke-width="1.2"><path d="M5.8,0.2 L0.3,10.7"/><ellipse cx="1.55" cy="2.75" rx="1.0" ry="1.9"/><ellipse cx="4.55" cy="8.25" rx="1.0" ry="2.05"/></g><text transform="translate(46.11 319.60) scale(0.608 1)" font-size="15.18" style="stroke-width:0.90px;font-weight:normal">4</text><text transform="translate(52.17 319.60) scale(0.564 1)" font-size="15.18" style="stroke-width:0.90px;font-weight:normal">0</text><text transform="translate(57.97 319.60) scale(0.564 1)" font-size="15.18" style="stroke-width:0.90px;font-weight:normal">0</text><text transform="translate(120.81 319.60) scale(0.582 1)" font-size="15.18" style="stroke-width:0.90px;font-weight:normal">6</text><text transform="translate(126.72 319.60) scale(0.564 1)" font-size="15.18" style="stroke-width:0.90px;font-weight:normal">0</text><text transform="translate(132.52 319.60) scale(0.564 1)" font-size="15.18" style="stroke-width:0.90px;font-weight:normal">0</text><text transform="translate(197.68 319.60) scale(0.573 1)" font-size="15.18" style="stroke-width:0.90px;font-weight:normal">8</text><text transform="translate(203.52 319.60) scale(0.564 1)" font-size="15.18" style="stroke-width:0.90px;font-weight:normal">0</text><text transform="translate(209.32 319.60) scale(0.564 1)" font-size="15.18" style="stroke-width:0.90px;font-weight:normal">0</text><text transform="translate(274.68 319.60) scale(0.457 1)" font-size="15.18" style="stroke-width:0.90px;font-weight:normal">1</text><text transform="translate(280.52 319.60) scale(0.564 1)" font-size="15.18" style="stroke-width:0.90px;font-weight:normal">0</text><text transform="translate(286.32 319.60) scale(0.564 1)" font-size="15.18" style="stroke-width:0.90px;font-weight:normal">0</text><text transform="translate(292.12 319.60) scale(0.564 1)" font-size="15.18" style="stroke-width:0.90px;font-weight:normal">0</text><text transform="translate(347.68 319.60) scale(0.457 1)" font-size="15.18" style="stroke-width:0.90px;font-weight:normal">1</text><text transform="translate(353.42 319.60) scale(0.589 1)" font-size="15.18" style="stroke-width:0.90px;font-weight:normal">2</text><text transform="translate(359.32 319.60) scale(0.564 1)" font-size="15.18" style="stroke-width:0.90px;font-weight:normal">0</text><text transform="translate(365.12 319.60) scale(0.564 1)" font-size="15.18" style="stroke-width:0.90px;font-weight:normal">0</text><text transform="translate(425.78 319.60) scale(0.457 1)" font-size="15.18" style="stroke-width:0.90px;font-weight:normal">1</text><text transform="translate(431.36 319.60) scale(0.608 1)" font-size="15.18" style="stroke-width:0.90px;font-weight:normal">4</text><text transform="translate(437.42 319.60) scale(0.564 1)" font-size="15.18" style="stroke-width:0.90px;font-weight:normal">0</text><text transform="translate(443.22 319.60) scale(0.564 1)" font-size="15.18" style="stroke-width:0.90px;font-weight:normal">0</text><text transform="translate(499.68 319.60) scale(0.457 1)" font-size="15.18" style="stroke-width:0.90px;font-weight:normal">1</text><text transform="translate(505.41 319.60) scale(0.582 1)" font-size="15.18" style="stroke-width:0.90px;font-weight:normal">6</text><text transform="translate(511.32 319.60) scale(0.564 1)" font-size="15.18" style="stroke-width:0.90px;font-weight:normal">0</text><text transform="translate(517.12 319.60) scale(0.564 1)" font-size="15.18" style="stroke-width:0.90px;font-weight:normal">0</text><text transform="translate(82.00 22.40) scale(0.640 1)" style="stroke-width:0.90px;font-weight:bold" font-size="19.48" textLength="67.32" lengthAdjust="spacing">Typical</text><text transform="translate(82.45 22.40) scale(0.640 1)" style="stroke-width:0.90px;font-weight:bold" font-size="19.48" textLength="67.32" lengthAdjust="spacing">Typical</text><text transform="translate(131.60 22.40) scale(0.640 1)" style="stroke-width:0.90px;font-weight:bold" font-size="19.48" textLength="102.24" lengthAdjust="spacing">Efficiency</text><text transform="translate(132.05 22.40) scale(0.640 1)" style="stroke-width:0.90px;font-weight:bold" font-size="19.48" textLength="102.24" lengthAdjust="spacing">Efficiency</text><text transform="translate(202.40 22.40) scale(0.640 1)" style="stroke-width:0.90px;font-weight:bold" font-size="19.48" textLength="71.32" lengthAdjust="spacing">Curves</text><text transform="translate(202.85 22.40) scale(0.640 1)" style="stroke-width:0.90px;font-weight:bold" font-size="19.48" textLength="71.32" lengthAdjust="spacing">Curves</text><text transform="translate(256.00 22.40) scale(0.640 1)" style="stroke-width:0.90px;font-weight:bold" font-size="19.48" textLength="28.41" lengthAdjust="spacing">for</text><text transform="translate(256.45 22.40) scale(0.640 1)" style="stroke-width:0.90px;font-weight:bold" font-size="19.48" textLength="28.41" lengthAdjust="spacing">for</text><text transform="translate(282.40 22.40) scale(0.640 1)" style="stroke-width:0.90px;font-weight:bold" font-size="19.48" textLength="44.12" lengthAdjust="spacing">High</text><text transform="translate(282.85 22.40) scale(0.640 1)" style="stroke-width:0.90px;font-weight:bold" font-size="19.48" textLength="44.12" lengthAdjust="spacing">High</text><text transform="translate(318.40 22.40) scale(0.640 1)" style="stroke-width:0.90px;font-weight:bold" font-size="19.48" textLength="96.30" lengthAdjust="spacing">Precision</text><text transform="translate(318.85 22.40) scale(0.640 1)" style="stroke-width:0.90px;font-weight:bold" font-size="19.48" textLength="96.30" lengthAdjust="spacing">Precision</text><text transform="translate(386.00 22.40) scale(0.640 1)" style="stroke-width:0.90px;font-weight:bold" font-size="19.48" textLength="106.27" lengthAdjust="spacing">Reflection</text><text transform="translate(386.45 22.40) scale(0.640 1)" style="stroke-width:0.90px;font-weight:bold" font-size="19.48" textLength="106.27" lengthAdjust="spacing">Reflection</text><text transform="translate(461.00 22.40) scale(0.640 1)" style="stroke-width:0.90px;font-weight:bold" font-size="19.48" textLength="89.72" lengthAdjust="spacing">Gratings</text><text transform="translate(461.45 22.40) scale(0.640 1)" style="stroke-width:0.90px;font-weight:bold" font-size="19.48" textLength="89.72" lengthAdjust="spacing">Gratings</text><text transform="translate(121.00 46.40) scale(0.640 1)" style="stroke-width:0.90px;font-weight:bold" font-size="19.48" textLength="105.65" lengthAdjust="spacing">Optimized</text><text transform="translate(121.45 46.40) scale(0.640 1)" style="stroke-width:0.90px;font-weight:bold" font-size="19.48" textLength="105.65" lengthAdjust="spacing">Optimized</text><text transform="translate(197.00 46.40) scale(0.640 1)" style="stroke-width:0.90px;font-weight:bold" font-size="19.48" textLength="73.47" lengthAdjust="spacing">(Blaze)</text><text transform="translate(197.45 46.40) scale(0.640 1)" style="stroke-width:0.90px;font-weight:bold" font-size="19.48" textLength="73.47" lengthAdjust="spacing">(Blaze)</text><text transform="translate(252.00 46.40) scale(0.640 1)" style="stroke-width:0.90px;font-weight:bold" font-size="19.48" textLength="137.55" lengthAdjust="spacing">Wavelengths</text><text transform="translate(252.45 46.40) scale(0.640 1)" style="stroke-width:0.90px;font-weight:bold" font-size="19.48" textLength="137.55" lengthAdjust="spacing">Wavelengths</text><text transform="translate(349.00 46.40) scale(0.640 1)" style="stroke-width:0.90px;font-weight:bold" font-size="19.48" textLength="47.01" lengthAdjust="spacing">from</text><text transform="translate(349.45 46.40) scale(0.640 1)" style="stroke-width:0.90px;font-weight:bold" font-size="19.48" textLength="47.01" lengthAdjust="spacing">from</text><text transform="translate(387.00 46.40) scale(0.640 1)" style="stroke-width:0.90px;font-weight:bold" font-size="19.48" textLength="38.20" lengthAdjust="spacing">750</text><text transform="translate(387.45 46.40) scale(0.640 1)" style="stroke-width:0.90px;font-weight:bold" font-size="19.48" textLength="38.20" lengthAdjust="spacing">750</text><text transform="translate(420.40 46.40) scale(1.000 1)" style="stroke-width:0.90px;font-weight:bold" font-size="19.48" textLength="3.66" lengthAdjust="spacingAndGlyphs">-</text><text transform="translate(420.85 46.40) scale(1.000 1)" style="stroke-width:0.90px;font-weight:bold" font-size="19.48" textLength="3.66" lengthAdjust="spacingAndGlyphs">-</text><text transform="translate(432.00 46.40) scale(0.640 1)" style="stroke-width:0.90px;font-weight:bold" font-size="19.48" textLength="71.91" lengthAdjust="spacing">900nm</text><text transform="translate(432.45 46.40) scale(0.640 1)" style="stroke-width:0.90px;font-weight:bold" font-size="19.48" textLength="71.91" lengthAdjust="spacing">900nm</text><text transform="translate(255.40 343.50) scale(0.620 1)" style="stroke-width:0.70px;font-weight:bold" font-size="16.28" textLength="97.76" lengthAdjust="spacing">Wavelength</text><text transform="translate(320.00 343.50) scale(0.620 1)" style="stroke-width:0.70px;font-weight:bold" font-size="16.28" textLength="38.87" lengthAdjust="spacing">(nm)</text><text transform="rotate(-90) translate(-233.60 18.30) scale(0.620 1)" style="stroke-width:0.70px;font-weight:bold" font-size="16.28" textLength="67.43" lengthAdjust="spacing">Average</text><text transform="rotate(-90) translate(-187.20 18.30) scale(0.620 1)" style="stroke-width:0.70px;font-weight:bold" font-size="16.28" textLength="75.84" lengthAdjust="spacing">Efficiency</text><text transform="rotate(-90) translate(-134.60 18.30) scale(1.000 1)" style="stroke-width:0.70px;font-weight:bold" font-size="16.28" textLength="16.04" lengthAdjust="spacingAndGlyphs">(%)</text><text transform="translate(398.40 91.60) scale(0.700 1)" style="stroke-width:0.35px;font-weight:bold" font-size="13.52" textLength="26.11" lengthAdjust="spacing">1200</text><text transform="translate(420.60 91.60) scale(0.700 1)" style="stroke-width:0.35px;font-weight:bold" font-size="12.60" textLength="72.64" lengthAdjust="spacing">grooves/mm</text><text transform="translate(474.00 91.60) scale(1.000 1)" style="stroke-width:0.30px;font-weight:bold" font-size="13.52" textLength="9.24" lengthAdjust="spacingAndGlyphs">@</text><text transform="translate(485.80 91.60) scale(0.700 1)" style="stroke-width:0.35px;font-weight:bold" font-size="13.52" textLength="42.31" lengthAdjust="spacing">750mm</text><text transform="translate(397.60 107.00) scale(0.700 1)" style="stroke-width:0.35px;font-weight:bold" font-size="13.52" textLength="20.63" lengthAdjust="spacing">300</text><text transform="translate(415.80 107.00) scale(0.700 1)" style="stroke-width:0.35px;font-weight:bold" font-size="12.60" textLength="70.02" lengthAdjust="spacing">grooves/mm</text><text transform="translate(468.80 107.00) scale(1.000 1)" style="stroke-width:0.30px;font-weight:bold" font-size="13.52" textLength="8.66" lengthAdjust="spacingAndGlyphs">@</text><text transform="translate(480.60 107.00) scale(0.700 1)" style="stroke-width:0.35px;font-weight:bold" font-size="13.52" textLength="42.36" lengthAdjust="spacing">760mm</text><text transform="translate(398.40 122.50) scale(0.700 1)" style="stroke-width:0.35px;font-weight:bold" font-size="13.52" textLength="26.11" lengthAdjust="spacing">1200</text><text transform="translate(420.60 122.50) scale(0.700 1)" style="stroke-width:0.35px;font-weight:bold" font-size="12.60" textLength="72.64" lengthAdjust="spacing">grooves/mm</text><text transform="translate(474.00 122.50) scale(1.000 1)" style="stroke-width:0.30px;font-weight:bold" font-size="13.52" textLength="9.24" lengthAdjust="spacingAndGlyphs">@</text><text transform="translate(485.80 122.50) scale(0.700 1)" style="stroke-width:0.35px;font-weight:bold" font-size="13.52" textLength="42.31" lengthAdjust="spacing">900mm</text>
</svg>
</body></html>
